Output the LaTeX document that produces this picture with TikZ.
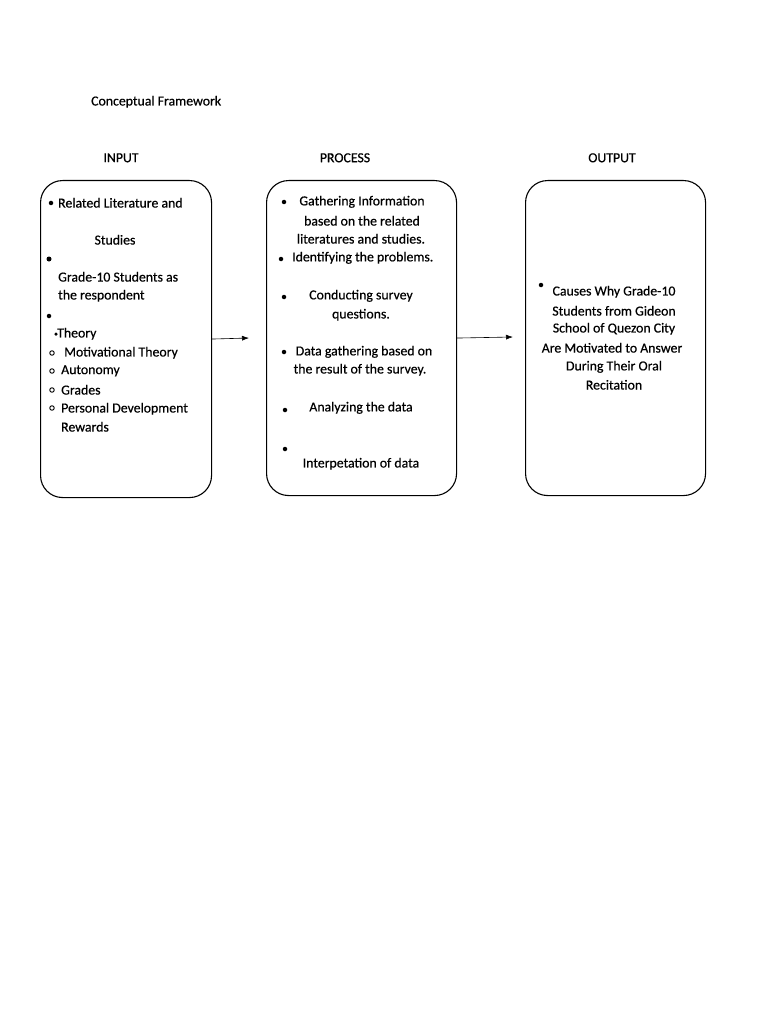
\documentclass[tikz,border=0pt]{standalone}
\usepackage{fontspec}
\setmainfont{Carlito}[FakeBold=0.5]
\usetikzlibrary{arrows.meta}

\begin{document}
\begin{tikzpicture}[x=1pt,y=-1pt,
  box/.style={draw,line width=1.1pt,rounded corners=22pt,anchor=north west,inner sep=0pt},
  txt/.style={font=\fontsize{13.8}{16}\selectfont,inner sep=0pt,yshift=-0.8pt},
  dot/.style={fill,circle,inner sep=0pt,minimum size=4.5pt},
  ring/.style={draw,circle,inner sep=0pt,minimum size=4.5pt,line width=0.9pt},
  arr/.style={-{Latex[length=7pt,width=5pt]},line width=0.6pt}]
\useasboundingbox (0,0) rectangle (768,1024);

\node[txt,anchor=west] (title) at (91,101) {Conceptual Framework};
\node[txt] (hin) at (121,157) {INPUT};
\node[txt] (hpro) at (345,157) {PROCESS};
\node[txt] (hout) at (612,157) {OUTPUT};

\node[box,minimum width=171pt,minimum height=317pt] (input) at (40,180) {};
\node[box,minimum width=190pt,minimum height=315pt] (process) at (266,180) {};
\node[box,minimum width=180pt,minimum height=315pt] (output) at (525,180) {};

\coordinate (tip1) at (249,338);
\coordinate (tip2) at (513,337);
\draw[arr] (input.east) -- (tip1);
\draw[arr] (process.east) -- (tip2);

% input
\node[dot] (b1) at (51,203) {};
\node[txt,anchor=west] (in1) at (58,202) {Related Literature and};
\node[txt] (in2) at (115,239) {Studies};
\node[dot,minimum size=5pt] (b2) at (49,259) {};
\node[txt,anchor=west] (in3) at (58,276) {Grade-10 Students as};
\node[txt,anchor=west] (in4) at (58,295) {the respondent};
\node[dot] (b3) at (49,316) {};
\node[dot,minimum size=3.5pt] (b4) at (56,334) {};
\node[txt,anchor=west] (in5) at (57,333) {Theory};
\node[ring] (r1) at (52,353) {};
\node[txt,anchor=west] (in6) at (64,352) {Motivational Theory};
\node[ring] (r2) at (52,371) {};
\node[txt,anchor=west] (in7) at (61,370) {Autonomy};
\node[ring] (r3) at (52,390) {};
\node[txt,anchor=west] (in8) at (61,389) {Grades};
\node[ring] (r4) at (52,408) {};
\node[txt,anchor=west] (in9) at (61,408) {Personal Development};
\node[txt,anchor=west] (in10) at (61,426) {Rewards};

% process
\node[dot] (p1) at (284,202) {};
\node[txt] (pr1) at (362,201) {Gathering Information};
\node[txt] (pr2) at (362,220) {based on the related};
\node[txt] (pr3) at (361,238) {literatures and studies.};
\node[dot] (p2) at (281,259) {};
\node[txt,anchor=west] (pr4) at (292,257) {Identifying the problems.};
\node[dot] (p3) at (284,297) {};
\node[txt] (pr5) at (361,295) {Conducting survey};
\node[txt] (pr6) at (361,314) {questions.};
\node[dot] (p4) at (284,352) {};
\node[txt] (pr7) at (364,351) {Data gathering based on};
\node[txt] (pr8) at (360,369) {the result of the survey.};
\node[dot] (p5) at (285,410) {};
\node[txt] (pr9) at (361,407) {Analyzing the data};
\node[dot] (p6) at (285,449) {};
\node[txt] (pr10) at (361,463) {Interpetation of data};

% output
\node[dot] (o1) at (541,285) {};
\node[txt] (out1) at (614,291) {Causes Why Grade-10};
\node[txt] (out2) at (614,310) {Students from Gideon};
\node[txt] (out3) at (614,328) {School of Quezon City};
\node[txt] (out4) at (612,347) {Are Motivated to Answer};
\node[txt] (out5) at (614,366) {During Their Oral};
\node[txt] (out6) at (614,384) {Recitation};

\end{tikzpicture}
\end{document}
